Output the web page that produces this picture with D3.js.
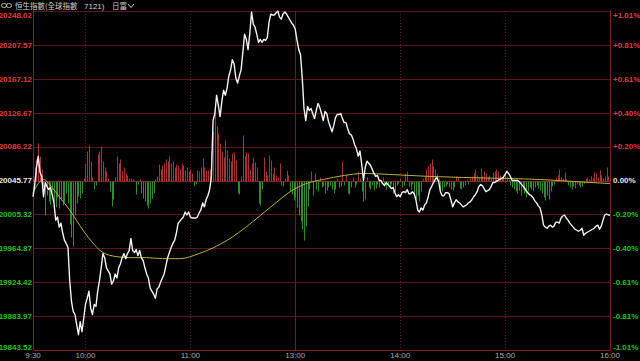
<!DOCTYPE html>
<html>
<head>
<meta charset="utf-8">
<script src="https://cdn.jsdelivr.net/npm/d3@7"></script>
<style>
html, body { margin: 0; padding: 0; background: #000; }
svg { display: block; font-family: "Liberation Sans", Arial, sans-serif; }
</style>
</head>
<body>
<div id="chart"></div>
<script>
var titleName = "恒生指數(全球指數",
    titleCode = "7121)",
    periodLabel = "日富",
    prevClose = 20045.77;

var priceTicks = [20248.02, 20207.57, 20167.12, 20126.67, 20086.22, 20045.77,
                  20005.32, 19964.87, 19924.42, 19883.97, 19843.52];
var pctTicks = ["+1.01%", "+0.81%", "+0.61%", "+0.40%", "+0.20%", "0.00%",
                "-0.20%", "-0.40%", "-0.61%", "-0.81%", "-1.01%"];
var timeTicks = ["9:30", "10:00", "11:00", "13:00", "14:00", "15:00", "16:00"];
var gridTimes = ["10:00", "11:00", "14:00", "15:00"];

// one price per minute, 09:30 - 12:00
var amPrices = [
  20026.4, 20040.9, 20061.5, 20074.8, 20055.5, 20050.6, 20026.4, 20043.3, 20038.5, 20034.9,
  20037.3, 20028.8, 20019.1, 19998.5, 20002.2, 19990.1, 19994.9, 19982.8, 19974.3, 19970.7,
  19965.8, 19925.9, 19901.6, 19889.5, 19885.9, 19873.8, 19861.7, 19877.4, 19865.3, 19881.1,
  19898.0, 19905.3, 19913.8, 19893.2, 19885.9, 19898.0, 19895.6, 19913.8, 19925.9, 19941.6,
  19958.6, 19953.7, 19941.6, 19938.0, 19934.3, 19922.2, 19925.9, 19934.3, 19929.5, 19941.6,
  19946.5, 19953.7, 19958.6, 19952.5, 19958.6, 19962.2, 19976.7, 19962.2, 19959.8, 19963.4,
  19956.1, 19962.2, 19953.7, 19950.1, 19941.6, 19934.3, 19929.5, 19917.4, 19913.8, 19910.1,
  19905.3, 19916.2, 19918.6, 19924.7, 19929.5, 19934.3, 19944.0, 19953.7, 19959.8, 19965.8,
  19970.7, 19974.3, 19982.8, 19994.9, 19997.3, 19999.8, 20002.2, 20008.2, 20004.6, 20008.2,
  20002.2, 20001.0, 20001.0, 20001.0, 20002.2, 20007.0, 20010.6, 20019.1, 20014.3, 20022.8,
  20027.6, 20034.9, 20049.4, 20117.2, 20125.7, 20147.5, 20135.4, 20122.1, 20140.2, 20153.6,
  20147.5, 20156.0, 20170.5, 20177.8, 20189.9, 20185.0, 20168.1, 20162.0, 20170.5, 20177.8,
  20198.4, 20220.2, 20214.1, 20202.0, 20221.4, 20246.8, 20232.3, 20228.6, 20220.2, 20210.5,
  20214.1, 20210.5, 20214.1, 20212.9, 20216.5, 20234.7, 20244.4, 20243.2, 20243.2, 20245.6,
  20248.0, 20240.7, 20238.3, 20244.4, 20246.8, 20244.4, 20240.7, 20237.1, 20233.5, 20231.1,
  20226.2
];

// one price per minute, 13:01 - 16:00
var pmPrices = [
  20212.9, 20202.0, 20195.9, 20168.1, 20131.8, 20117.2, 20134.2, 20129.3, 20131.8, 20125.7,
  20119.6, 20129.3, 20137.8, 20133.0, 20125.7, 20117.2, 20128.1, 20125.7, 20116.0, 20110.0,
  20103.9, 20111.2, 20120.9, 20124.5, 20124.5, 20125.7, 20119.6, 20114.8, 20114.8, 20107.5,
  20101.5, 20100.3, 20095.4, 20088.2, 20083.3, 20074.8, 20080.9, 20065.1, 20045.8, 20061.5,
  20068.8, 20066.4, 20063.9, 20059.1, 20054.2, 20050.6, 20051.8, 20045.8, 20045.8, 20042.1,
  20039.7, 20043.3, 20040.9, 20038.5, 20036.1, 20037.3, 20031.2, 20026.4, 20028.8, 20026.4,
  20031.2, 20032.4, 20031.2, 20034.9, 20030.0, 20030.0, 20032.4, 20030.0, 20022.8, 20010.6,
  20008.2, 20013.1, 20010.6, 20016.7, 20019.1, 20026.4, 20034.9, 20038.5, 20043.3, 20047.0,
  20049.4, 20044.6, 20032.4, 20027.6, 20027.6, 20031.2, 20031.2, 20030.0, 20022.8, 20014.3,
  20019.1, 20022.8, 20020.3, 20019.1, 20016.7, 20014.3, 20015.5, 20016.7, 20019.1, 20020.3,
  20022.8, 20026.4, 20028.8, 20032.4, 20038.5, 20040.9, 20039.7, 20036.1, 20032.4, 20033.6,
  20034.9, 20038.5, 20043.3, 20043.3, 20044.6, 20045.8, 20047.0, 20048.2, 20049.4, 20053.0,
  20056.7, 20054.2, 20050.6, 20045.8, 20045.8, 20045.8, 20045.8, 20044.6, 20042.1, 20039.7,
  20037.3, 20033.6, 20031.2, 20028.8, 20027.6, 20025.2, 20021.5, 20019.1, 20015.5, 20013.1,
  20004.6, 19992.5, 19990.1, 19988.8, 19991.3, 19992.5, 19990.1, 19991.3, 19996.1, 19996.1,
  19994.9, 20001.0, 20003.4, 20004.6, 20001.0, 19998.5, 19994.9, 19992.5, 19990.1, 19987.6,
  19986.4, 19985.2, 19986.4, 19988.8, 19980.4, 19982.8, 19984.0, 19985.2, 19986.4, 19987.6,
  19988.8, 19991.3, 19992.5, 19987.6, 19991.3, 19998.5, 20004.6, 20005.8, 20004.6, 20004.6
];

// red / green strength bars per minute, same minutes as the prices
var amFlow = [
  6, 14, 22, 38, 25, 12, -6, -34, -14, -20,
  -23, -10, -20, -26, -16, -27, -19, -24, -21, -12,
  -22, -43, -56, -65, -34, -22, -15, -17, -12, 3,
  18, 30, 36, 20, 4, -8, -4, 27, 30, 35,
  20, 14, 10, 3, -10, -25, -18, 4, 25, 18,
  22, 10, 14, 8, 6, 3, 3, 2, 1, -13,
  -3, 2, -12, -17, -20, -24, -27, -22, -17, -12,
  2, 5, 17, 12, 16, 18, 22, 20, 25, 18,
  20, 14, 17, 16, 12, 18, 16, 11, 14, 10,
  12, 8, -5, -3, 11, 10, 14, 23, 14, 11,
  11, 12, 30, 50, 74, 55, 48, 38, 30, 24,
  41, 31, 23, 20, 28, 29, 21, -12, -13, 5,
  46, 25, 29, 28, 12, 18, 24, 19, 14, -22,
  -24, -8, 24, 10, 6, 26, 21, 8, 14, 6,
  4, 18, -4, -5, 3, 11, 6, -10, -13, -19,
  -16
];
var pmFlow = [
  -26, -34, -40, -48, -59, -45, -25, -8, 10, -14,
  8, -8, -10, 4, -6, -5, -12, -9, -6, -4,
  -8, -12, -8, 3, -6, -5, 20, -4, 6, -12,
  -13, -6, 4, -6, -3, 10, 3, -10, -20, -18,
  4, -6, -8, -4, -9, -7, -3, -6, -2, 4,
  -5, -8, -4, -7, -3, -12, -10, -4, -2, 3,
  -6, -4, 8, 10, -5, -8, -3, -12, -18, -14,
  -20, -10, 3, 5, 12, 15, 18, 22, 15, 12,
  8, 3, -8, -10, -6, -5, -3, -6, -8, -9,
  -6, 5, 4, -7, -8, -6, -4, 2, -3, 3,
  5, 8, 12, 6, 4, 13, 5, 10, 8, 4,
  6, 3, 9, 10, 12, 10, 6, 4, 3, 8,
  5, 2, -4, -6, -8, -10, -12, -9, -14, -8,
  -12, -16, -10, -6, -8, -10, -6, -4, -7, -9,
  -12, -16, -19, -14, -18, -10, -5, -3, 4, 6,
  12, 4, 3, 9, 2, -4, -6, -8, -5, -7,
  -3, -4, -6, -5, -2, 3, 4, 2, 5, 3,
  9, 8, 4, 11, 6, 3, 5, 14, 5, 3
];

// average price line
var avgTimes = ["9:30", "9:36", "9:41", "9:45", "9:51", "9:57", "10:03", "10:10", "10:18",
                "10:26", "10:35", "10:44", "10:54", "11:05", "11:21", "11:34", "11:46", "12:00",
                "13:08", "13:16", "13:28", "13:39", "13:54", "14:17", "14:36", "15:01", "15:20",
                "15:39", "16:00"];
var avgPrices = [20031.2, 20047.0, 20037.3, 20026.4, 20010.6, 19991.3, 19974.3, 19959.8, 19954.9,
                 19953.7, 19953.7, 19952.5, 19952.5, 19958.6, 19974.3, 19993.7, 20014.3, 20036.1,
                 20043.3, 20047.0, 20051.8, 20054.2, 20053.0, 20050.6, 20049.4, 20048.2, 20047.0,
                 20044.6, 20042.1];

var width = 640,
    height = 361,
    plotLeft = 33,
    plotRight = 610,
    plotTop = 11,
    plotBottom = 350,
    upColor = "#e23b3b",
    downColor = "#1fc41f",
    flatColor = "#e6e6e6";

// minutes of trading since 9:30, lunch break removed
var tradeMinute = function(t) {
    var p = t.split(":"),
        mins = (+p[0]) * 60 + (+p[1]);
    return mins <= 720 ? mins - 570 : 150 + mins - 780;
};

var prices = amPrices.concat(pmPrices),
    flows = amFlow.concat(pmFlow);

var x = d3.scaleLinear().domain([0, 330]).range([plotLeft, plotRight]);
var y = d3.scaleLinear().domain([priceTicks[priceTicks.length - 1], priceTicks[0]]).range([plotBottom, plotTop]);
var flowScale = d3.scaleLinear().domain([0, 80]).range([0, 80]);

var labelColor = function(v) {
    if (Math.abs(v - prevClose) < 0.01) return flatColor;
    return v > prevClose ? upColor : downColor;
};

var clampLabel = function(v) {
    return Math.min(Math.max(y(v), plotTop + 4), plotBottom - 3);
};

var svg = d3.select("#chart").append("svg")
    .attr("width", width).attr("height", height)
    .style("background", "#000");

var drawTitle = function() {
    var g = svg.append("g").attr("fill", "#cfcfcf").style("font-size", "7.5px")
        .style("font-family", "'Noto Sans CJK TC', 'Noto Sans CJK SC', sans-serif");
    g.append("rect").attr("x", 1.5).attr("y", 3.5).attr("width", 5).attr("height", 4).attr("rx", 2)
        .attr("fill", "none").attr("stroke", "#bbb");
    g.append("rect").attr("x", 6.5).attr("y", 3.5).attr("width", 5).attr("height", 4).attr("rx", 2)
        .attr("fill", "none").attr("stroke", "#bbb");
    g.append("text").attr("x", 15).attr("y", 9).text(titleName);
    g.append("text").attr("x", 84).attr("y", 9).style("font-family", "'Liberation Sans', Arial")
        .style("font-size", "8px").text(titleCode);
    g.append("text").attr("x", 112).attr("y", 9).text(periodLabel);
    g.append("path").attr("d", "M128,4 L131,7.5 L134,4").attr("fill", "none").attr("stroke", "#ccc");
};

var drawGrid = function() {
    var grid = svg.append("g");
    grid.selectAll("line.h").data(priceTicks).enter().append("line")
        .attr("x1", plotLeft).attr("x2", plotRight)
        .attr("y1", function(d) { return Math.round(y(d)) + 0.5; })
        .attr("y2", function(d) { return Math.round(y(d)) + 0.5; })
        .attr("stroke", function(d) { return d === prevClose ? "#8c1d1d" : "#601414"; });

    grid.selectAll("line.v").data(gridTimes).enter().append("line")
        .attr("x1", function(d) { return Math.round(x(tradeMinute(d))) + 0.5; })
        .attr("x2", function(d) { return Math.round(x(tradeMinute(d))) + 0.5; })
        .attr("y1", plotTop).attr("y2", plotBottom)
        .attr("stroke", "#6a1515").attr("stroke-dasharray", "1,2");

    var noon = Math.round(x(tradeMinute("13:00"))) + 0.5;
    grid.append("line").attr("x1", noon).attr("x2", noon).attr("y1", plotTop).attr("y2", plotBottom)
        .attr("stroke", "#7a1818");

    grid.append("path")
        .attr("d", "M" + (plotLeft + 0.5) + "," + (plotTop - 1) + "V" + (plotBottom + 0.5) +
                   "H" + (plotRight + 0.5) + "V" + (plotTop - 1))
        .attr("fill", "none").attr("stroke", "#8b1c1c");
};

var drawAxes = function() {
    svg.append("g").selectAll("text").data(priceTicks).enter().append("text")
        .attr("x", plotLeft - 1).attr("y", function(d) { return clampLabel(d); })
        .attr("dy", "0.35em").attr("text-anchor", "end")
        .style("font-size", "8px").style("font-weight", "bold")
        .attr("fill", function(d) { return labelColor(d); })
        .text(function(d) { return d3.format(".2f")(d); });

    svg.append("g").selectAll("text").data(priceTicks).enter().append("text")
        .attr("x", plotRight + 3).attr("y", function(d) { return clampLabel(d); })
        .attr("dy", "0.35em").attr("text-anchor", "start")
        .style("font-size", "8px").style("font-weight", "bold")
        .attr("fill", function(d) { return labelColor(d); })
        .text(function(d, i) { return pctTicks[i]; });

    svg.append("g").selectAll("text").data(timeTicks).enter().append("text")
        .attr("x", function(d) { return x(tradeMinute(d)); })
        .attr("y", 358).attr("text-anchor", "middle")
        .style("font-size", "8px").attr("fill", "#a8a8a8")
        .text(function(d) { return d; });
};

var drawFlow = function() {
    var base = Math.round(y(prevClose)) + 0.5;
    svg.append("g").selectAll("line").data(flows).enter().append("line")
        .attr("x1", function(d, i) { return Math.round(x(i)) + 0.5; })
        .attr("x2", function(d, i) { return Math.round(x(i)) + 0.5; })
        .attr("y1", base)
        .attr("y2", function(d) { return d >= 0 ? base - flowScale(d) : base + flowScale(-d); })
        .attr("stroke", function(d) { return d >= 0 ? "#a83232" : "#2a8e2a"; })
        .attr("stroke-width", 1);
};

var drawLines = function() {
    var avgLine = d3.line()
        .x(function(d, i) { return x(tradeMinute(avgTimes[i])); })
        .y(function(d) { return y(d); })
        .curve(d3.curveMonotoneX);
    svg.append("path").datum(avgPrices).attr("d", avgLine)
        .attr("fill", "none").attr("stroke", "#bfae3a").attr("stroke-width", 1);

    var priceLine = d3.line()
        .x(function(d, i) { return x(i); })
        .y(function(d) { return y(d); });
    svg.append("path").datum(prices).attr("d", priceLine)
        .attr("fill", "none").attr("stroke", "#f2f2f2").attr("stroke-width", 1.4)
        .attr("stroke-linejoin", "round");
};

var init = function() {
    drawTitle();
    drawGrid();
    drawFlow();
    drawLines();
    drawAxes();
};

init();
</script>
</body>
</html>
